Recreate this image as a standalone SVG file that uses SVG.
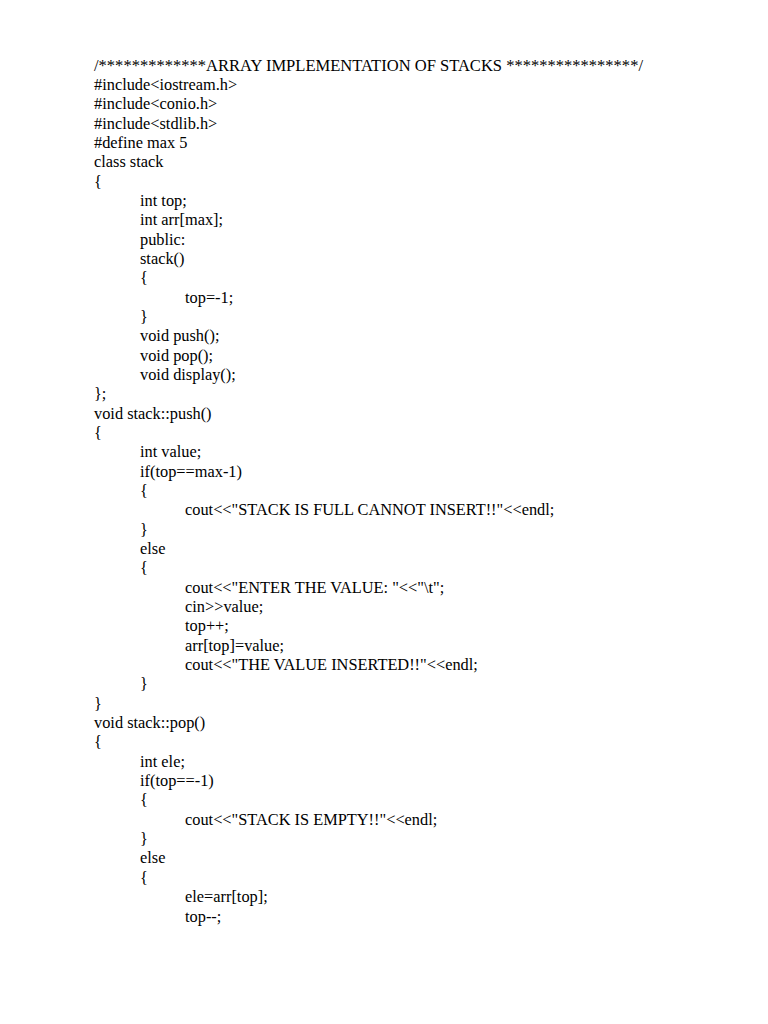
<svg xmlns="http://www.w3.org/2000/svg" width="768" height="1024" viewBox="0 0 768 1024">
<style>text{font-family:"Liberation Serif","Times New Roman",serif;font-size:16.35px;fill:#000}</style>
<rect width="768" height="1024" fill="#fff"/>
<g id="code">
<text x="94" y="71" textLength="549" lengthAdjust="spacingAndGlyphs">/*************ARRAY IMPLEMENTATION OF STACKS ****************/</text>
<text x="94" y="90">#include&lt;iostream.h&gt;</text>
<text x="94" y="109">#include&lt;conio.h&gt;</text>
<text x="94" y="129">#include&lt;stdlib.h&gt;</text>
<text x="94" y="148">#define max 5</text>
<text x="94" y="167">class stack</text>
<text x="94" y="187">{</text>
<text x="140" y="206">int top;</text>
<text x="140" y="225">int arr[max];</text>
<text x="140" y="245">public:</text>
<text x="140" y="264">stack()</text>
<text x="140" y="283">{</text>
<text x="185" y="303">top=-1;</text>
<text x="140" y="322">}</text>
<text x="140" y="341">void push();</text>
<text x="140" y="361">void pop();</text>
<text x="140" y="380">void display();</text>
<text x="94" y="399">};</text>
<text x="94" y="419">void stack::push()</text>
<text x="94" y="438">{</text>
<text x="140" y="457">int value;</text>
<text x="140" y="477">if(top==max-1)</text>
<text x="140" y="496">{</text>
<text x="185" y="515">cout&lt;&lt;"STACK IS FULL CANNOT INSERT!!"&lt;&lt;endl;</text>
<text x="140" y="535">}</text>
<text x="140" y="554">else</text>
<text x="140" y="573">{</text>
<text x="185" y="593">cout&lt;&lt;"ENTER THE VALUE: "&lt;&lt;"\t";</text>
<text x="185" y="612">cin&gt;&gt;value;</text>
<text x="185" y="631">top++;</text>
<text x="185" y="651">arr[top]=value;</text>
<text x="185" y="670">cout&lt;&lt;"THE VALUE INSERTED!!"&lt;&lt;endl;</text>
<text x="140" y="689">}</text>
<text x="94" y="709">}</text>
<text x="94" y="728">void stack::pop()</text>
<text x="94" y="747">{</text>
<text x="140" y="767">int ele;</text>
<text x="140" y="786">if(top==-1)</text>
<text x="140" y="805">{</text>
<text x="185" y="825">cout&lt;&lt;"STACK IS EMPTY!!"&lt;&lt;endl;</text>
<text x="140" y="844">}</text>
<text x="140" y="863">else</text>
<text x="140" y="883">{</text>
<text x="185" y="902">ele=arr[top];</text>
<text x="185" y="922">top--;</text>
</g>
</svg>
